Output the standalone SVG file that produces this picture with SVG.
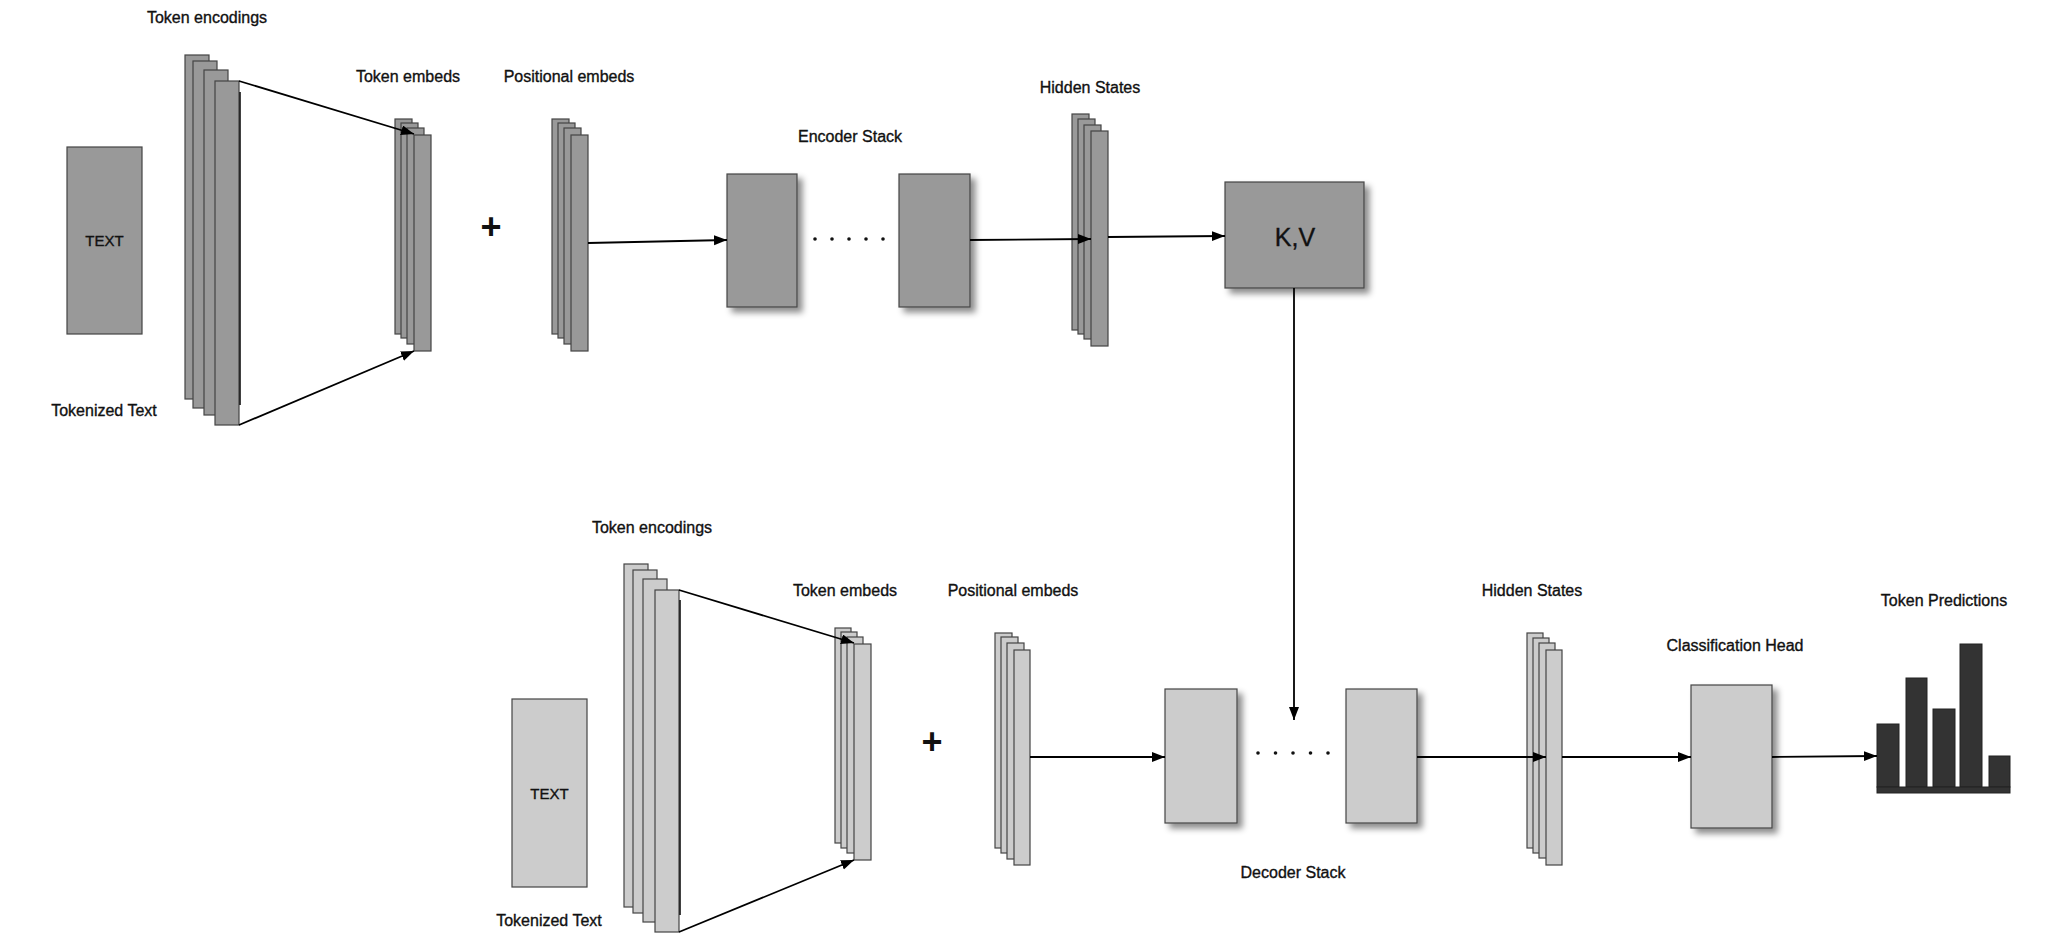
<svg xmlns="http://www.w3.org/2000/svg" width="2048" height="935" viewBox="0 0 2048 935">
<defs>
<style>
.lbl{font-family:"Liberation Sans",Arial,sans-serif;font-size:16px;fill:#111;stroke:#111;stroke-width:0.35;text-anchor:middle}
.enc{fill:#999999;stroke:#444;stroke-width:1.2}
.dec{fill:#cccccc;stroke:#444;stroke-width:1.2}
.bar{fill:#333333;stroke:#222;stroke-width:1}
.plus{font-family:"Liberation Sans",Arial,sans-serif;font-size:36px;font-weight:bold;fill:#111;text-anchor:middle}
.con{stroke:#000;stroke-width:1.8;fill:none;marker-end:url(#ah)}
.dot{fill:#111}
.edge{stroke:#111;stroke-width:1.6}
</style>
<marker id="ah" markerUnits="userSpaceOnUse" markerWidth="14" markerHeight="12" refX="13" refY="5" orient="auto">
<path d="M0,0 L13,5 L0,10 Z" fill="#000"/>
</marker>
<filter id="sh" x="-20%" y="-20%" width="150%" height="150%">
<feDropShadow dx="5" dy="5" stdDeviation="3" flood-color="#000" flood-opacity="0.45"/>
</filter>
</defs>
<rect width="2048" height="935" fill="#fff"/>

<g id="enc-text">
<rect class="enc" x="67" y="147" width="75" height="187"/>
<text class="lbl" x="104.5" y="246" style="font-size:15px">TEXT</text>
<text class="lbl" x="104" y="416">Tokenized Text</text>
</g>
<g id="enc-token-encodings">
<text class="lbl" x="207" y="23">Token encodings</text>
<rect class="enc" x="185" y="55" width="24" height="344"/>
<rect class="enc" x="193" y="61" width="24" height="347"/>
<rect class="enc" x="204" y="70" width="24" height="345"/>
<rect class="enc" x="215" y="81" width="24" height="344"/>
<line class="edge" x1="240" y1="92" x2="240" y2="405"/>
</g>
<g id="enc-token-embeds">
<text class="lbl" x="408" y="82">Token embeds</text>
<rect class="enc" x="395" y="119" width="17" height="215"/>
<rect class="enc" x="401" y="123" width="17" height="215"/>
<rect class="enc" x="407" y="128" width="17" height="216"/>
<rect class="enc" x="414" y="135" width="17" height="216"/>
</g>
<g id="enc-plus"><text class="plus" x="491" y="239">+</text></g>
<g id="enc-positional">
<text class="lbl" x="569" y="82">Positional embeds</text>
<rect class="enc" x="552" y="119" width="17" height="215"/>
<rect class="enc" x="558" y="123" width="17" height="215"/>
<rect class="enc" x="564" y="128" width="17" height="216"/>
<rect class="enc" x="571" y="135" width="17" height="216"/>
</g>
<g id="encoder-stack">
<text class="lbl" x="850" y="142">Encoder Stack</text>
<rect class="enc" x="727" y="174" width="70" height="133" filter="url(#sh)"/>
<rect class="enc" x="899" y="174" width="71" height="133" filter="url(#sh)"/>
<circle class="dot" cx="815" cy="239" r="1.8"/>
<circle class="dot" cx="832" cy="239" r="1.8"/>
<circle class="dot" cx="849" cy="239" r="1.8"/>
<circle class="dot" cx="866" cy="239" r="1.8"/>
<circle class="dot" cx="883" cy="239" r="1.8"/>
</g>
<g id="enc-hidden">
<text class="lbl" x="1090" y="93">Hidden States</text>
<rect class="enc" x="1072" y="114" width="17" height="216"/>
<rect class="enc" x="1078" y="119" width="17" height="215"/>
<rect class="enc" x="1084" y="125" width="17" height="214"/>
<rect class="enc" x="1091" y="131" width="17" height="215"/>
</g>
<g id="kv">
<rect class="enc" x="1225" y="182" width="139" height="106" filter="url(#sh)"/>
<text class="lbl" x="1295" y="246" style="font-size:25px">K,V</text>
</g>

<g id="dec-text">
<rect class="dec" x="512" y="699" width="75" height="188"/>
<text class="lbl" x="549.5" y="799" style="font-size:15px">TEXT</text>
<text class="lbl" x="549" y="926">Tokenized Text</text>
</g>
<g id="dec-token-encodings">
<text class="lbl" x="652" y="533">Token encodings</text>
<rect class="dec" x="624" y="564" width="24" height="343"/>
<rect class="dec" x="633" y="570" width="24" height="343"/>
<rect class="dec" x="643" y="579" width="24" height="343"/>
<rect class="dec" x="655" y="590" width="24" height="342"/>
<line class="edge" x1="680" y1="600" x2="680" y2="915"/>
</g>
<g id="dec-token-embeds">
<text class="lbl" x="845" y="596">Token embeds</text>
<rect class="dec" x="835" y="628" width="16" height="215"/>
<rect class="dec" x="841" y="632" width="16" height="216"/>
<rect class="dec" x="847" y="637" width="16" height="216"/>
<rect class="dec" x="854" y="644" width="17" height="216"/>
</g>
<g id="dec-plus"><text class="plus" x="932" y="754">+</text></g>
<g id="dec-positional">
<text class="lbl" x="1013" y="596">Positional embeds</text>
<rect class="dec" x="995" y="633" width="17" height="215"/>
<rect class="dec" x="1001" y="637" width="17" height="216"/>
<rect class="dec" x="1007" y="643" width="17" height="216"/>
<rect class="dec" x="1014" y="650" width="16" height="215"/>
</g>
<g id="decoder-stack">
<rect class="dec" x="1165" y="689" width="72" height="134" filter="url(#sh)"/>
<rect class="dec" x="1346" y="689" width="71" height="134" filter="url(#sh)"/>
<circle class="dot" cx="1258" cy="753" r="1.8"/>
<circle class="dot" cx="1275.5" cy="753" r="1.8"/>
<circle class="dot" cx="1293" cy="753" r="1.8"/>
<circle class="dot" cx="1310.5" cy="753" r="1.8"/>
<circle class="dot" cx="1328" cy="753" r="1.8"/>
<text class="lbl" x="1293" y="878">Decoder Stack</text>
</g>
<g id="dec-hidden">
<text class="lbl" x="1532" y="596">Hidden States</text>
<rect class="dec" x="1527" y="633" width="16" height="215"/>
<rect class="dec" x="1533" y="638" width="16" height="215"/>
<rect class="dec" x="1539" y="643" width="16" height="215"/>
<rect class="dec" x="1546" y="650" width="16" height="215"/>
</g>
<g id="classification-head">
<text class="lbl" x="1735" y="651">Classification Head</text>
<rect class="dec" x="1691" y="685" width="81" height="143" filter="url(#sh)"/>
</g>
<g id="token-predictions">
<text class="lbl" x="1944" y="606">Token Predictions</text>
<rect class="bar" x="1877" y="724" width="22" height="63"/>
<rect class="bar" x="1906" y="678" width="21" height="109"/>
<rect class="bar" x="1933" y="709" width="22" height="78"/>
<rect class="bar" x="1960" y="644" width="22" height="143"/>
<rect class="bar" x="1989" y="756" width="21" height="31"/>
<rect class="bar" x="1877" y="787" width="133" height="6"/>
</g>

<g id="connectors">
<line class="con" x1="239" y1="81" x2="414" y2="134"/>
<line class="con" x1="239" y1="425" x2="414" y2="351"/>
<line class="con" x1="588" y1="243" x2="727" y2="240"/>
<line class="con" x1="970" y1="240" x2="1091" y2="239"/>
<line class="con" x1="1108" y1="237" x2="1225" y2="236"/>
<line class="con" x1="1294" y1="288" x2="1294" y2="720"/>
<line class="con" x1="679" y1="590" x2="854" y2="643"/>
<line class="con" x1="679" y1="932" x2="854" y2="860"/>
<line class="con" x1="1030" y1="757" x2="1165" y2="757"/>
<line class="con" x1="1417" y1="757" x2="1546" y2="757"/>
<line class="con" x1="1562" y1="757" x2="1691" y2="757"/>
<line class="con" x1="1772" y1="757" x2="1877" y2="756"/>
</g>
</svg>
